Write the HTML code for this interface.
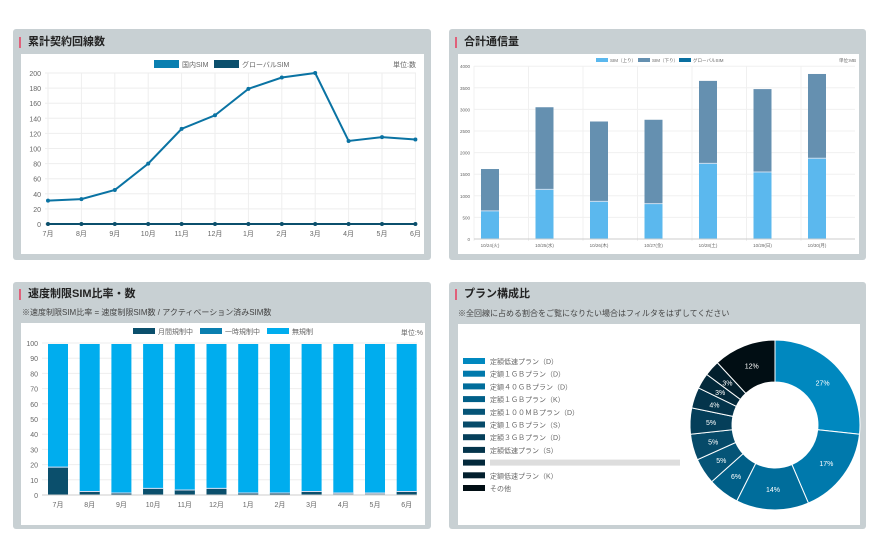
<!DOCTYPE html>
<html><head><meta charset="utf-8">
<style>
body{margin:0;width:881px;height:557px;background:#fff;font-family:"Liberation Sans","Noto Sans CJK JP",sans-serif;position:relative;overflow:hidden}
.p{position:absolute;background:#c8d0d3;border-radius:3px}
.w{position:absolute;background:#fff}
.t{position:absolute;font-size:11px;font-weight:bold;color:#222;padding-left:7px;border-left:2px solid #e0607a;line-height:11px}
.n{position:absolute;font-size:8px;color:#444}
svg{position:absolute;left:0;top:0}
</style></head><body>
<div class="p" style="left:13px;top:29px;width:418px;height:231px"></div>
<div class="p" style="left:449px;top:29px;width:417px;height:231px"></div>
<div class="p" style="left:13px;top:282px;width:418px;height:247px"></div>
<div class="p" style="left:449px;top:282px;width:417px;height:247px"></div>
<div class="w" style="left:21px;top:54px;width:403px;height:200px"></div>
<div class="w" style="left:458px;top:54px;width:401px;height:200px"></div>
<div class="w" style="left:21px;top:323px;width:404px;height:202px"></div>
<div class="w" style="left:458px;top:324px;width:402px;height:201px"></div>
<div class="t" style="left:19px;top:37px">累計契約回線数</div>
<div class="t" style="left:455px;top:37px">合計通信量</div>
<div class="t" style="left:19px;top:289px">速度制限SIM比率・数</div>
<div class="t" style="left:455px;top:289px">プラン構成比</div>
<div class="n" style="left:22px;top:307px">※速度制限SIM比率 = 速度制限SIM数 / アクティベーション済みSIM数</div>
<div class="n" style="left:458px;top:308px">※全回線に占める割合をご覧になりたい場合はフィルタをはずしてください</div>
<svg id="s" width="881" height="557" font-family="Liberation Sans, Noto Sans CJK JP, sans-serif"></svg>
<script>
var s='';
function T(x,y,t,sz,c,a){s+='<text x="'+x+'" y="'+y+'" font-size="'+sz+'" fill="'+(c||'#666')+'" text-anchor="'+(a||'middle')+'">'+t+'</text>';}
function R(x,y,w,h,c){s+='<rect x="'+x+'" y="'+y+'" width="'+w+'" height="'+h+'" fill="'+c+'"/>';}
function L(x1,y1,x2,y2,c,w){s+='<line x1="'+x1+'" y1="'+y1+'" x2="'+x2+'" y2="'+y2+'" stroke="'+c+'" stroke-width="'+(w||1)+'"/>';}
var M=['7月','8月','9月','10月','11月','12月','1月','2月','3月','4月','5月','6月'];
// TL
for(var i=0;i<=10;i++){var y=224-i*15.1;L(45,y,416,y,'#eee');T(41,y+3,i*20,7,'#666','end');}
for(i=0;i<12;i++){var x=48+i*33.4;L(x,73,x,226,'#eee');T(x,236,M[i],7);}
L(45,224,416,224,'#ccc');
var v=[31,33,45,80,126,144,179,194,200,110,115,112],pts='';
for(i=0;i<12;i++)pts+=(48+i*33.4)+','+(224-v[i]*0.755)+' ';
s+='<polyline points="'+pts+'" fill="none" stroke="#0a73a3" stroke-width="2"/>';
for(i=0;i<12;i++){s+='<circle cx="'+(48+i*33.4)+'" cy="'+(224-v[i]*0.755)+'" r="2" fill="#0a73a3"/>';s+='<circle cx="'+(48+i*33.4)+'" cy="224" r="2" fill="#0b4f6c"/>';}
L(48,224,415,224,'#0b4f6c',2);
R(154,60,25,8,'#0a7fb0');T(182,67,'国内SIM',7,'#666','start');R(214,60,25,8,'#0b4f6c');T(242,67,'グローバルSIM',7,'#666','start');
T(416,67,'単位:数',7,'#666','end');
// TR
for(i=0;i<=8;i++){var y=239-i*21.6;L(474,y,855,y,'#f0f0f0');T(470,y+2,i*500,4.5,'#666','end');}
var D=['10/24(火)','10/25(水)','10/26(木)','10/27(金)','10/28(土)','10/29(日)','10/30(月)'];
var lo=[650,1150,870,820,1750,1550,1870],tot=[1620,3050,2720,2760,3660,3470,3820];
for(i=0;i<7;i++){var x=474+i*54.5;L(x,66,x,241,'#f0f0f0');var bx=481+i*54.5;
var yl=239-lo[i]*0.0432,yt=239-tot[i]*0.0432;R(bx,yt,18,yl-yt,'#6590b0');R(bx,yl,18,239-yl,'#5bb8ee');L(bx,yl,bx+18,yl,'#cde',1);T(bx+9,247,D[i],4.5);}
L(474,239,855,239,'#ccc');
R(596,58,12,4,'#5bb8ee');T(610,62,'SIM（上り）',4.5,'#666','start');R(638,58,12,4,'#6590b0');T(652,62,'SIM（下り）',4.5,'#666','start');R(679,58,12,4,'#0a6fa0');T(693,62,'グローバルSIM',4.5,'#666','start');
T(856,62,'単位:MB',4.5,'#666','end');
// BL
for(i=0;i<=10;i++){var y=495-i*15.2;L(42,y,417,y,'#eee');T(38,y+3,i*10,7,'#666','end');}
var lw=[18,2,1,4,3,4,1,1,2,1,1,2];
for(i=0;i<12;i++){var cx=58+i*31.7,bx=cx-10;R(bx,344,20,151,'#00adee');var h=lw[i]*1.52;
R(bx,495-h,20,h,(i==9||i==10)?'#8aa6b5':'#0b4f6c');L(bx,495-h-0.5,bx+20,495-h-0.5,'#dde',1);T(cx,507,M[i],7);}
L(42,495,417,495,'#ccc');
R(133,328,22,6,'#0b4f6c');T(158,334,'月間規制中',7,'#666','start');R(200,328,22,6,'#0a7fb0');T(225,334,'一時規制中',7,'#666','start');R(267,328,22,6,'#00adee');T(292,334,'無規制',7,'#666','start');
T(423,335,'単位:%',7,'#666','end');
// BR legend
var P=['定額低速プラン（D）','定額１ＧＢプラン（D）','定額４０ＧＢプラン（D）','定額１ＧＢプラン（K）','定額１００ＭＢプラン（D）','定額１ＧＢプラン（S）','定額３ＧＢプラン（D）','定額低速プラン（S）','','定額低速プラン（K）','その他'];
var C=['#0088bf','#0079ac','#006d9b','#005f88','#055477','#064a69','#053f5a','#04344b','#03293b','#021f2d','#010e14'];
for(i=0;i<11;i++){var y=358+i*12.7;R(463,y,22,6,C[i]);if(P[i])T(490,y+6,P[i],7,'#666','start');else R(490,y,190,6,'#ddd');}
// donut
var pc=[27,17,14,6,5,5,5,4,3,3,12],sum=101,a=-Math.PI/2,cx=775,cy=425,ro=85,ri=43;
for(i=0;i<11;i++){var d=pc[i]/sum*2*Math.PI,a2=a+d,lg=d>Math.PI?1:0;
function p(r,t){return (cx+r*Math.cos(t)).toFixed(1)+','+(cy+r*Math.sin(t)).toFixed(1);}
s+='<path d="M'+p(ro,a)+' A'+ro+','+ro+' 0 '+lg+' 1 '+p(ro,a2)+' L'+p(ri,a2)+' A'+ri+','+ri+' 0 '+lg+' 0 '+p(ri,a)+'Z" fill="'+['#0088bf','#0079ac','#006d9b','#005f88','#055477','#064a69','#053f5a','#04344b','#03293b','#021f2d','#010e14'][i]+'" stroke="#fff" stroke-width="1"/>';
var m=(a+a2)/2;T((cx+64*Math.cos(m)).toFixed(1),(cy+64*Math.sin(m)+3).toFixed(1),pc[i]+'%',7,'#fff');a=a2;}
document.getElementById('s').innerHTML=s;
</script>
</body></html>
